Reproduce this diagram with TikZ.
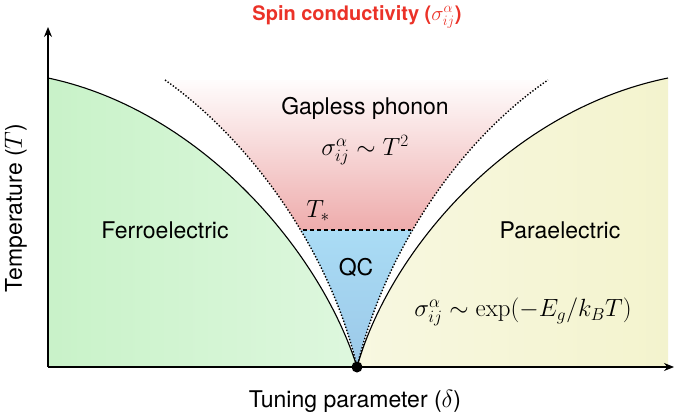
\documentclass[tikz,border=0pt]{standalone}
\usepackage[no-math]{fontspec}
\setmainfont{TeX Gyre Heros}
\usetikzlibrary{arrows.meta}
\definecolor{grn}{RGB}{200,242,200}
\definecolor{ylw}{RGB}{243,243,205}
\definecolor{rd}{RGB}{238,172,172}
\definecolor{bl}{RGB}{170,220,245}
\definecolor{bl2}{RGB}{155,200,232}
\definecolor{ttl}{RGB}{235,50,40}
\tikzset{lab/.style={font=\fontsize{23}{26}\selectfont},
 mlab/.style={font=\fontsize{24}{27}\selectfont},
 axis/.style={line width=1.2pt,-{Stealth[length=10pt,width=8pt]}},
 bound/.style={line width=1.1pt},
 dots/.style={line width=1.4pt,dash pattern=on 1.4pt off 1.8pt}}
\begin{document}
\begin{tikzpicture}[x=1pt,y=-1pt]
\useasboundingbox (0,0) rectangle (685,417);
\coordinate (O) at (357,367);
\coordinate (L) at (48,78);
\coordinate (R) at (668,78);
\coordinate (DL) at (165,80);
\coordinate (DR) at (548,80);
% fills
\begin{scope}
\clip (L) .. controls (200,110) and (320,250) .. (O) -- (48,367) -- cycle;
\shade[left color=grn, right color=grn!60] (40,60) rectangle (360,370);
\end{scope}
\begin{scope}
\clip (O) .. controls (390,250) and (510,110) .. (R) -- (668,367) -- cycle;
\shade[left color=ylw!60, right color=ylw] (350,60) rectangle (680,370);
\end{scope}
\begin{scope}
\clip (DL) .. controls (250,140) and (330,250) .. (O) .. controls (385,250) and (460,140) .. (DR) -- cycle;
\shade[top color=white, bottom color=rd] (150,75) rectangle (560,230);
\shade[top color=bl, bottom color=bl2] (150,230) rectangle (560,370);
\end{scope}
% curves
\draw[bound] (L) .. controls (200,110) and (320,250) .. (O);
\draw[bound] (O) .. controls (390,250) and (510,110) .. (R);
\draw[dots] (DL) .. controls (250,140) and (330,250) .. (O);
\draw[dots] (O) .. controls (385,250) and (460,140) .. (DR);
\coordinate (TL) at (303,230);
\coordinate (TR) at (411,230);
\draw[line width=1.4pt,dash pattern=on 4pt off 3pt] (TL) -- (TR);
% axes
\coordinate (Y) at (48,27);
\coordinate (X) at (674,367);
\draw[axis] (48,367) -- (Y);
\draw[axis] (48,367) -- (X);
\fill (O) circle (5.5pt);
% labels
\node[text=ttl,font=\bfseries\fontsize{20}{24}\selectfont] (t) at (357,17) {Spin conductivity ($\sigma^{\alpha}_{ij}$)};
\node[lab,rotate=90] (yl) at (16,208) {Temperature ($T$)};
\node[lab] (xl) at (355,401) {Tuning parameter ($\delta$)};
\node[lab] (fe) at (165,230) {Ferroelectric};
\node[lab] (pe) at (560,230) {Paraelectric};
\node[lab] (gp) at (365,108) {Gapless phonon};
\node[mlab] (s2) at (365,150) {$\sigma^{\alpha}_{ij}\sim T^2$};
\node[mlab] (ts) at (318,211) {$T_*$};
\node[lab] (qc) at (356,268) {QC};
\node[mlab] (ex) at (523,312) {$\sigma^{\alpha}_{ij}\sim \exp\bigl(-E_g/k_BT\bigr)$};
\end{tikzpicture}
\end{document}
